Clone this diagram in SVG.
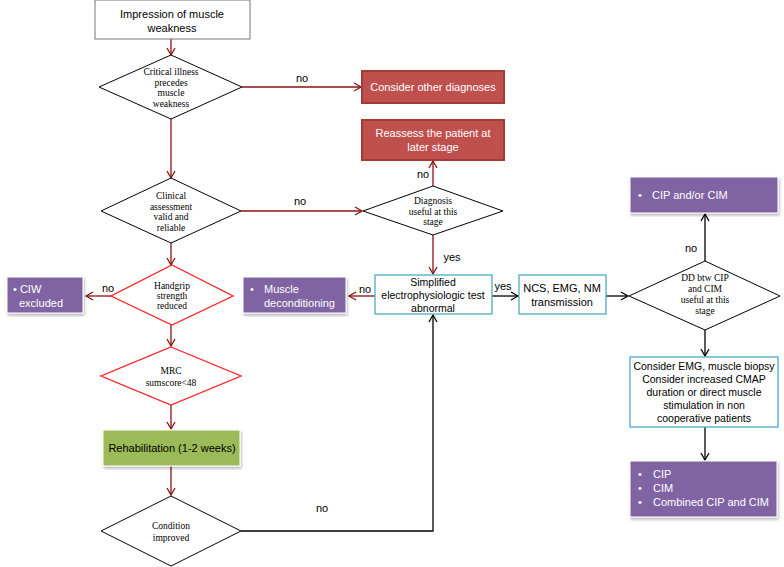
<svg xmlns="http://www.w3.org/2000/svg" width="784" height="567" viewBox="0 0 784 567">
<style>
.sans{font-family:"Liberation Sans","Open Sans",sans-serif;font-size:11px}
.sm{font-size:10.5px}
.serif{font-family:"Liberation Serif",serif;font-size:9.5px}
.w{fill:#fff}
.red{fill:#c0504d;stroke:#a33b38;stroke-width:2}
.pur{fill:#8064a2;stroke:#fff;stroke-width:1}
.cy{fill:#fff;stroke:#4bacc6;stroke-width:1.3}
.dia{fill:#fff;stroke:#000;stroke-width:1}
.rdia{fill:#fff;stroke:#ff2020;stroke-width:1.3}
.rl{stroke:#8b1010;stroke-width:1.3;fill:none;marker-end:url(#ar)}
.bl{stroke:#000;stroke-width:1.3;fill:none;marker-end:url(#ab)}
</style>
<defs>
<marker id="ar" markerWidth="10" markerHeight="10" refX="8" refY="5" orient="auto" markerUnits="userSpaceOnUse"><path d="M1,1 L8,5 L1,9" fill="none" stroke="#8b1010" stroke-width="1.3"/></marker>
<marker id="ab" markerWidth="10" markerHeight="10" refX="8" refY="5" orient="auto" markerUnits="userSpaceOnUse"><path d="M1,1 L8,5 L1,9" fill="none" stroke="#000" stroke-width="1.3"/></marker>
<filter id="sh"><feDropShadow dx="1" dy="2" stdDeviation="1.5" flood-opacity="0.3"/></filter>
</defs>
<rect width="784" height="567" fill="#fff"/>
<g id="connectors">
<path class="rl" d="M171,39 V55"/>
<path class="rl" d="M242,87 H361"/>
<path class="rl" d="M171,119 V178"/>
<path class="rl" d="M241,211 H362"/>
<path class="rl" d="M433,186 V161"/>
<path class="rl" d="M433,235 V274"/>
<path class="rl" d="M171,243 V265"/>
<path class="rl" d="M111,296 H86"/>
<path class="rl" d="M375,296 H349"/>
<path class="bl" d="M492,296 H518"/>
<path class="bl" d="M606,296 H628"/>
<path class="bl" d="M705,261 V214"/>
<path class="bl" d="M705,330 V356"/>
<path class="bl" d="M705,427 V460"/>
<path class="rl" d="M171,325 V346"/>
<path class="rl" d="M171,405 V429"/>
<path class="rl" d="M171,466 V495"/>
<path class="bl" d="M241,531 H433 V315"/>
<g class="sans" fill="#000">
<text x="302" y="82" text-anchor="middle">no</text>
<text x="300" y="205" text-anchor="middle">no</text>
<text x="423" y="178" text-anchor="middle">no</text>
<text x="452" y="261" text-anchor="middle">yes</text>
<text x="108" y="292" text-anchor="middle">no</text>
<text x="365" y="293" text-anchor="middle">no</text>
<text x="503" y="290" text-anchor="middle">yes</text>
<text x="691" y="252" text-anchor="middle">no</text>
<text x="322" y="512" text-anchor="middle">no</text>
</g>
</g>
<g id="start"><rect x="95" y="0" width="155" height="39" fill="#fff" stroke="#777"/>
<text class="sans" x="172" y="18" text-anchor="middle">Impression of muscle</text><text class="sans" x="172" y="32" text-anchor="middle">weakness</text></g>
<g id="d1"><polygon class="dia" points="171,55 242,87 171,119 99,87"/>
<g class="serif" text-anchor="middle"><text x="171" y="75">Critical illness</text><text x="171" y="86">precedes</text><text x="171" y="96">muscle</text><text x="171" y="107">weakness</text></g></g>
<g id="other"><rect class="red" x="362" y="71" width="142" height="32"/><text class="sans w" x="433" y="91" text-anchor="middle">Consider other diagnoses</text></g>
<g id="reassess"><rect class="red" x="362" y="120" width="142" height="40"/><text class="sans w" x="433" y="137" text-anchor="middle">Reassess the patient at</text><text class="sans w" x="433" y="151" text-anchor="middle">later stage</text></g>
<g id="d2"><polygon class="dia" points="171,178 241,211 171,243 101,211"/>
<g class="serif" text-anchor="middle"><text x="171" y="199">Clinical</text><text x="171" y="210">assessment</text><text x="171" y="220">valid and</text><text x="171" y="231">reliable</text></g></g>
<g id="d3"><polygon class="dia" points="433,186 503,211 433,235 363,211"/>
<g class="serif" text-anchor="middle"><text x="433" y="204">Diagnosis</text><text x="433" y="215">useful at this</text><text x="433" y="225">stage</text></g></g>
<g id="handgrip"><polygon class="rdia" points="172,265 233,296 172,325 111,296"/>
<g class="serif" text-anchor="middle"><text x="172" y="289">Handgrip</text><text x="172" y="299">strength</text><text x="172" y="309">reduced</text></g></g>
<g id="ciw"><rect class="pur" x="7" y="277" width="76" height="36" filter="url(#sh)"/><text class="sans w" x="13" y="293">• CIW</text><text class="sans w" x="19" y="307">excluded</text></g>
<g id="decond"><rect class="pur" x="243" y="277" width="103" height="36" filter="url(#sh)"/><text class="sans w" x="250" y="293">•</text><text class="sans w" x="264" y="293">Muscle</text><text class="sans w" x="264" y="307">deconditioning</text></g>
<g id="simplified"><rect class="cy" x="375" y="275" width="117" height="39"/>
<g class="sans sm" text-anchor="middle"><text x="433" y="286">Simplified</text><text x="433" y="299">electrophysiologic test</text><text x="433" y="312">abnormal</text></g></g>
<g id="ncs"><rect class="cy" x="519" y="275" width="87" height="39"/>
<g class="sans" text-anchor="middle"><text x="562" y="292">NCS, EMG, NM</text><text x="562" y="306">transmission</text></g></g>
<g id="dd"><polygon class="dia" points="705,261 780,296 705,330 629,296"/>
<g class="serif" text-anchor="middle"><text x="705" y="281">DD btw CIP</text><text x="705" y="292">and CIM</text><text x="705" y="303">useful at this</text><text x="705" y="314">stage</text></g></g>
<g id="cipor"><rect class="pur" x="630" y="177" width="148" height="36" filter="url(#sh)"/><text class="sans w" x="638" y="199">•</text><text class="sans w" x="652" y="199">CIP and/or CIM</text></g>
<g id="consider"><rect class="cy" x="630" y="357" width="148" height="70"/>
<g class="sans sm" text-anchor="middle"><text x="704" y="370">Consider EMG, muscle biopsy</text><text x="704" y="383">Consider increased CMAP</text><text x="704" y="396">duration or direct muscle</text><text x="704" y="409">stimulation in non</text><text x="704" y="422">cooperative patients</text></g></g>
<g id="result"><rect class="pur" x="630" y="461" width="147" height="56" filter="url(#sh)"/>
<g class="sans w"><text x="638" y="478">•</text><text x="653" y="478">CIP</text><text x="638" y="492">•</text><text x="653" y="492">CIM</text><text x="638" y="506">•</text><text x="653" y="506">Combined CIP and CIM</text></g></g>
<g id="mrc"><polygon class="rdia" points="171,347 241,376 171,405 101,376"/>
<g class="serif" text-anchor="middle"><text x="171" y="374">MRC</text><text x="171" y="386">sumscore&lt;48</text></g></g>
<g id="rehab"><rect x="103" y="430" width="137" height="36" fill="#9bbb59" stroke="#fff" filter="url(#sh)"/><text class="sans" x="172" y="452" text-anchor="middle">Rehabilitation (1-2 weeks)</text></g>
<g id="cond"><polygon class="dia" points="171,496 241,531 171,566 101,531"/>
<g class="serif" text-anchor="middle"><text x="171" y="529">Condition</text><text x="171" y="541">improved</text></g></g>
</svg>
